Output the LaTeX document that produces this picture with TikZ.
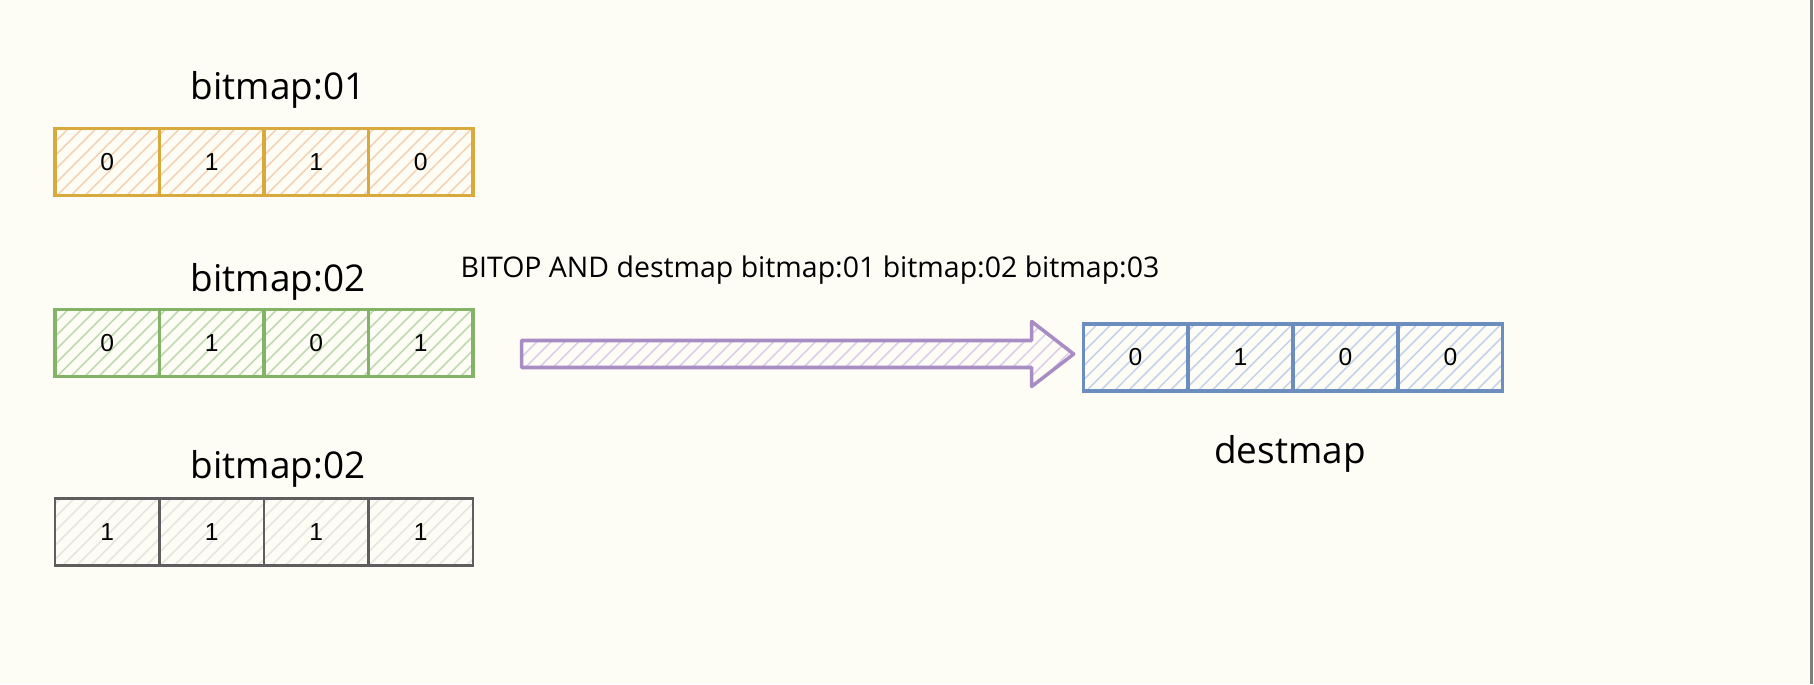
\documentclass[tikz,border=0pt]{standalone}
\usepackage{fontspec}
\setmainfont{Open Sans}
\newfontfamily\digitfont{Liberation Sans}
\usepackage{xcolor}
\usetikzlibrary{patterns.meta}
\usetikzlibrary{calc}
\usetikzlibrary{positioning}

\definecolor{bgcream}{HTML}{FDFDF6}
\definecolor{yellowline}{HTML}{D8A93C}
\definecolor{yellowhatch}{HTML}{F4D3B4}
\definecolor{greenline}{HTML}{82B366}
\definecolor{greenhatch}{HTML}{BFD9B0}
\definecolor{grayline}{HTML}{5E5E5E}
\definecolor{grayhatch}{HTML}{E6E6E2}
\definecolor{blueline}{HTML}{6C8EBF}
\definecolor{bluehatch}{HTML}{C3D2EA}
\definecolor{purpleline}{HTML}{A88CC4}
\definecolor{purplehatch}{HTML}{DCCDEB}

\begin{document}
\begin{tikzpicture}[
      every node/.style={inner sep=0pt},
      cell/.style={draw,line width=0.9pt,minimum width=1.045cm,minimum height=0.67cm,
        font=\digitfont\fontsize{7}{8}\selectfont},
      hatch/.style={preaction={fill=bgcream},
        pattern={Lines[angle=45,distance=2.8pt,line width=0.45pt]},pattern color=#1},
      maplabel/.style={font=\fontsize{10.5}{12}\selectfont},
      cmdlabel/.style={font=\fontsize{8.1}{10}\selectfont}]

  \fill[bgcream] (0,0) rectangle (18.14,-6.84);
  \useasboundingbox (0,0) rectangle (18.14,-6.84);

  % bitmap:01
  \foreach \v [count=\i] in {0,1,1,0}
    \node[cell,draw=yellowline,hatch=yellowhatch] (a\i) at ({0.55+1.045*(\i-0.5)},-1.62) {\v};
  \node[maplabel] (alab) at (2.78,-0.90) {bitmap:01};

  % bitmap:02
  \foreach \v [count=\i] in {0,1,0,1}
    \node[cell,draw=greenline,hatch=greenhatch] (b\i) at ({0.55+1.045*(\i-0.5)},-3.43) {\v};
  \node[maplabel] (blab) at (2.78,-2.82) {bitmap:02};

  % bitmap:03
  \foreach \v [count=\i] in {1,1,1,1}
    \node[cell,draw=grayline,line width=0.6pt,hatch=grayhatch] (c\i) at ({0.55+1.045*(\i-0.5)},-5.32) {\v};
  \node[maplabel] (clab) at (2.78,-4.69) {bitmap:02};

  % destmap
  \foreach \v [count=\i] in {0,1,0,0}
    \node[cell,draw=blueline,hatch=bluehatch] (d\i) at ({10.83+1.05*(\i-0.5)},-3.575) {\v};
  \node[maplabel] (dlab) at (12.90,-4.54) {destmap};

  \node[cmdlabel] (cmd) at (8.10,-2.70) {BITOP AND destmap bitmap:01 bitmap:02 bitmap:03};

  % arrow
  \coordinate (arrL) at ($(b4.east)+(0.47,-0.11)$);
  \coordinate (arrR) at ($(d1.west)+(-0.08,0.035)$);
  \draw[purpleline,line width=1pt,line join=round,hatch=purplehatch]
    ($(arrL)+(0,0.135)$) -- ($(arrR)+(-0.42,0.135)$) -- ($(arrR)+(-0.42,0.325)$)
    -- (arrR) -- ($(arrR)+(-0.42,-0.325)$) -- ($(arrR)+(-0.42,-0.135)$)
    -- ($(arrL)+(0,-0.135)$) -- cycle;

  \draw[grayline!80,line width=1pt] (18.115,0) -- (18.115,-6.84);
\end{tikzpicture}
\end{document}
